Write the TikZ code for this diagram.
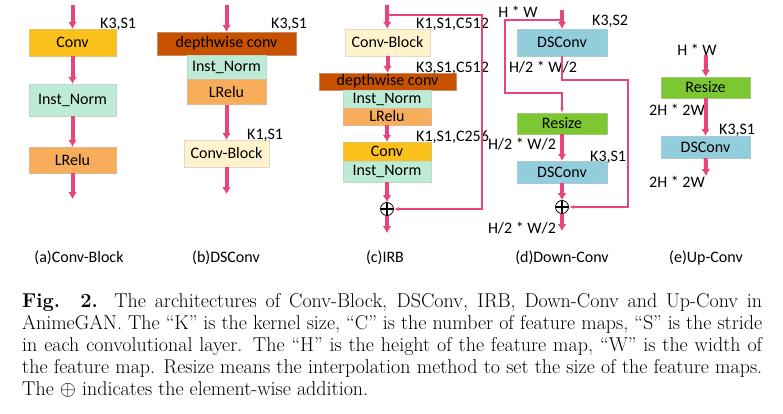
\documentclass[tikz,border=0pt]{standalone}
\usepackage{fontspec}
\newfontfamily\cali{Carlito}
\usetikzlibrary{arrows.meta}
\definecolor{pinkc}{HTML}{E8457C}
\definecolor{convc}{HTML}{F9C11A}
\definecolor{normc}{HTML}{BDEBD6}
\definecolor{reluc}{HTML}{F8AD5B}
\definecolor{dwc}{HTML}{C85100}
\definecolor{cbc}{HTML}{FFF2CC}
\definecolor{dsc}{HTML}{92CDDC}
\definecolor{rsc}{HTML}{7DC832}
\tikzset{
  blk/.style={draw=#1!80!black!60, fill=#1, inner sep=0, font=\cali\fontsize{16}{16}\selectfont},
  flow/.style={pinkc, line width=4pt, -{Latex[length=7pt,width=9pt]}},
  skip/.style={pinkc, line width=1.5pt},
  lbl/.style={font=\cali\fontsize{16}{16}\selectfont, inner sep=0},
  plus/.style={circle, draw, thick, fill=white, minimum size=13pt, inner sep=0,
    path picture={\draw[line width=1.6pt] (path picture bounding box.north) -- (path picture bounding box.south)
      (path picture bounding box.west) -- (path picture bounding box.east);}}
}
\begin{document}
\begin{tikzpicture}[x=1pt,y=-1pt]
    \useasboundingbox (0,0) rectangle (783,414);

    % (a) Conv-Block
    \coordinate (a0) at (72.5,5);
    \node[blk=convc, minimum width=87pt, minimum height=27pt] at (72.5,42.5) (aconv) {Conv};
    \node[blk=normc, minimum width=87pt, minimum height=32pt] at (72.5,100) (anorm) {Inst\_Norm};
    \node[blk=reluc, minimum width=87pt, minimum height=26pt] at (72.5,160) (arelu) {LRelu};
    \coordinate (a1) at (72.5,199);
    \node[lbl, anchor=west] at (100,24) (ak) {K3,S1};
    \node[lbl] at (79,258) (acap) {(a)Conv-Block};
    \draw[flow] (a0) -- (aconv); % in -> Conv
    \draw[flow] (aconv) -- (anorm); % Conv -> Norm
    \draw[flow] (anorm) -- (arelu); % Norm -> LRelu
    \draw[flow] (arelu) -- (a1); % LRelu -> out

    % (b) DSConv
    \coordinate (b0) at (226.5,5);
    \node[blk=dwc, minimum width=139pt, minimum height=23pt] at (226.5,43.5) (bdw) {depthwise conv};
    \node[blk=normc, minimum width=79pt, minimum height=24pt] at (226.5,67.5) (bnorm) {Inst\_Norm};
    \node[blk=reluc, minimum width=79pt, minimum height=25pt] at (226.5,92) (brelu) {LRelu};
    \node[blk=cbc, minimum width=85pt, minimum height=27pt] at (226.5,153.5) (bcb) {Conv-Block};
    \coordinate (b1) at (226.5,194);
    \node[lbl, anchor=west] at (271,24) (bk1) {K3,S1};
    \node[lbl, anchor=west] at (247,135) (bk2) {K1,S1};
    \node[lbl] at (226,258) (bcap) {(b)DSConv};
    \draw[flow] (b0) -- (bdw); % in -> depthwise
    \draw[flow] (brelu) -- (bcb); % LRelu -> Conv-Block
    \draw[flow] (bcb) -- (b1); % Conv-Block -> out

    % (c) IRB
    \coordinate (c0) at (387,5);
    \node[blk=cbc, minimum width=85pt, minimum height=27pt] at (387.5,42.5) (ccb) {Conv-Block};
    \node[blk=dwc, minimum width=137pt, minimum height=17pt] at (387.5,81.5) (cdw) {depthwise conv};
    \node[blk=normc, minimum width=88pt, minimum height=18pt] at (387,99) (cnorm) {Inst\_Norm};
    \node[blk=reluc, minimum width=88pt, minimum height=17pt] at (387,116.5) (crelu) {LRelu};
    \node[blk=convc, minimum width=88pt, minimum height=19pt] at (387,151.5) (cconv) {Conv};
    \node[blk=normc, minimum width=88pt, minimum height=21pt] at (387,171.5) (cnorm2) {Inst\_Norm};
    \node[plus] at (387,209) (cadd) {};
    \coordinate (c1) at (387,233);
    \coordinate (cs1) at (482,15);
    \coordinate (cs2) at (482,209);
    \node[lbl, anchor=west] at (416,24) (ck1) {K1,S1,C512};
    \node[lbl, anchor=west] at (416,68) (ck2) {K3,S1,C512};
    \node[lbl, anchor=west] at (416,137) (ck3) {K1,S1,C256};
    \node[lbl] at (385,258) (ccap) {(c)IRB};
    \draw[flow] (c0) -- (ccb); % in -> Conv-Block
    \draw[flow] (ccb) -- (cdw); % Conv-Block -> depthwise
    \draw[flow] (crelu) -- (cconv); % LRelu -> Conv
    \draw[flow] (cnorm2) -- (cadd); % Norm -> add
    \draw[flow] (cadd) -- (c1); % add -> out
    \draw[skip, -{Latex[length=5pt]}] (387,15) -- (cs1) -- (cs2) -- (cadd); % skip

    % (d) Down-Conv
    \coordinate (d0) at (562,10);
    \node[blk=dsc, minimum width=90pt, minimum height=27pt] at (562,42.5) (dds) {DSConv};
    \node[blk=rsc, minimum width=90pt, minimum height=21pt] at (562,123.5) (drs) {Resize};
    \node[blk=dsc, minimum width=90pt, minimum height=22pt] at (562,172) (dds2) {DSConv};
    \node[plus] at (562,207) (dadd) {};
    \coordinate (d1) at (562,231);
    \coordinate (ds1) at (505,20);
    \coordinate (ds2) at (505,93);
    \coordinate (ds3) at (562,93);
    \coordinate (ds4) at (562,80);
    \coordinate (ds5) at (628,80);
    \coordinate (ds6) at (628,207);
    \node[lbl] at (518,12) (dhw) {H * W};
    \node[lbl, anchor=west] at (592,21) (dk1) {K3,S2};
    \node[lbl] at (543,67) (dhw2) {H/2 * W/2};
    \node[lbl] at (522,144) (dhw3) {H/2 * W/2};
    \node[lbl, anchor=west] at (590,157) (dk2) {K3,S1};
    \node[lbl] at (522,228) (dhw4) {H/2 * W/2};
    \node[lbl] at (562,258) (dcap) {(d)Down-Conv};
    \draw[flow] (d0) -- (dds); % in -> DSConv
    \draw[flow] (drs) -- (dds2); % Resize -> DSConv
    \draw[flow] (dds2) -- (dadd); % DSConv -> add
    \draw[flow] (dadd) -- (d1); % add -> out
    \draw[skip, -{Latex[length=5pt]}] (562,20) -- (ds1) -- (ds2) -- (ds3) -- (drs); % in -> Resize
    \draw[skip, -{Latex[length=5pt]}] (dds) -- (ds4) -- (ds5) -- (ds6) -- (dadd); % DSConv -> add

    % (e) Up-Conv
    \coordinate (e0) at (706,55);
    \node[blk=rsc, minimum width=89pt, minimum height=21pt] at (705.5,87.5) (ers) {Resize};
    \node[blk=dsc, minimum width=89pt, minimum height=22pt] at (705.5,147) (eds) {DSConv};
    \coordinate (e1) at (706,176);
    \node[lbl] at (697,50) (ehw) {H * W};
    \node[lbl] at (677,110) (ehw2) {2H * 2W};
    \node[lbl, anchor=west] at (719,130) (ek) {K3,S1};
    \node[lbl] at (677,182) (ehw3) {2H * 2W};
    \node[lbl] at (706,258) (ecap) {(e)Up-Conv};
    \draw[flow] (e0) -- (ers); % in -> Resize
    \draw[flow] (ers) -- (eds); % Resize -> DSConv
    \draw[flow] (eds) -- (e1); % DSConv -> out

    % caption
    \node[anchor=north west, inner sep=0, text width=740pt, align=justify,
      font=\fontsize{20}{22}\selectfont] at (22,293) (cap)
      {\textbf{Fig. 2.} The architectures of Conv-Block, DSConv, IRB, Down-Conv and Up-Conv in AnimeGAN. The ``K'' is the kernel size, ``C'' is the number of feature maps, ``S'' is the stride in each convolutional layer. The ``H'' is the height of the feature map, ``W'' is the width of the feature map. Resize means the interpolation method to set the size of the feature maps. The $\oplus$ indicates the element-wise addition.};
\end{tikzpicture}
\end{document}
